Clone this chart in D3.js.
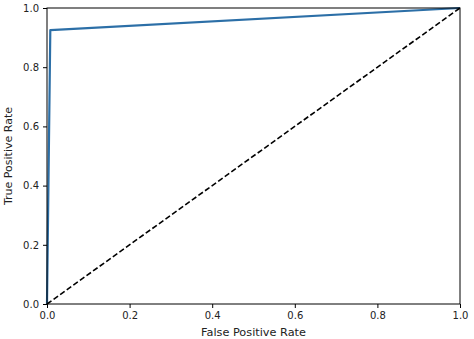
<!DOCTYPE html>
<html>
<head>
<meta charset="utf-8">
<script src="https://cdn.jsdelivr.net/npm/d3@7"></script>
<style>
  html, body { margin: 0; padding: 0; background: #fff; }
  svg { display: block; }
  text { font-family: "DejaVu Sans", sans-serif; fill: #222; }
</style>
</head>
<body>
<svg id="chart" width="474" height="339"></svg>
<script>
// ROC curve points (false positive rate, true positive rate)
const fpr = [0.0, 0.008, 1.0];
const tpr = [0.0, 0.925, 1.0];
// chance diagonal
const diagX = [0, 1];
const diagY = [0, 1];
const tickValues = [0.0, 0.2, 0.4, 0.6, 0.8, 1.0];
const xLabel = "False Positive Rate";
const yLabel = "True Positive Rate";

const W = 474, H = 339;
const margin = { left: 47, right: 14, top: 8, bottom: 35 };
const svg = d3.select("#chart");

const x = d3.scaleLinear().domain([0, 1]).range([margin.left, W - margin.right]);
const y = d3.scaleLinear().domain([0, 1]).range([H - margin.bottom, margin.top]);

const line = d3.line().x(d => x(d[0])).y(d => y(d[1]));

// ROC curve
svg.append("path")
  .datum(fpr.map((v, i) => [v, tpr[i]]))
  .attr("d", line)
  .attr("fill", "none")
  .attr("stroke", "#2c6fa7")
  .attr("stroke-width", 2.2)
  .attr("stroke-linejoin", "round");

// diagonal reference
svg.append("path")
  .datum(diagX.map((v, i) => [v, diagY[i]]))
  .attr("d", line)
  .attr("fill", "none")
  .attr("stroke", "#000")
  .attr("stroke-width", 1.6)
  .attr("stroke-dasharray", "5.5,2.6");

// frame
svg.append("rect")
  .attr("x", x(0)).attr("y", y(1))
  .attr("width", x(1) - x(0)).attr("height", y(0) - y(1))
  .attr("fill", "none").attr("stroke", "#000").attr("stroke-width", 1);

const fmt = d3.format(".1f");

const xAxis = svg.append("g")
  .attr("transform", `translate(0,${y(0)})`)
  .call(d3.axisBottom(x).tickValues(tickValues).tickFormat(fmt).tickSize(4).tickPadding(4));
const yAxis = svg.append("g")
  .attr("transform", `translate(${x(0)},0)`)
  .call(d3.axisLeft(y).tickValues(tickValues).tickFormat(fmt).tickSize(4).tickPadding(4));

[xAxis, yAxis].forEach(g => {
  g.select(".domain").remove();
  g.selectAll(".tick line").attr("stroke", "#000").attr("stroke-width", 1);
  g.selectAll(".tick text").attr("font-size", 10).attr("font-family", "DejaVu Sans, sans-serif").attr("fill", "#222");
});

svg.append("text")
  .attr("x", (x(0) + x(1)) / 2).attr("y", 336)
  .attr("text-anchor", "middle").attr("font-size", 11.3)
  .text(xLabel);

svg.append("text")
  .attr("transform", `translate(12,${(y(0) + y(1)) / 2}) rotate(-90)`)
  .attr("text-anchor", "middle").attr("font-size", 11)
  .text(yLabel);
</script>
</body>
</html>
